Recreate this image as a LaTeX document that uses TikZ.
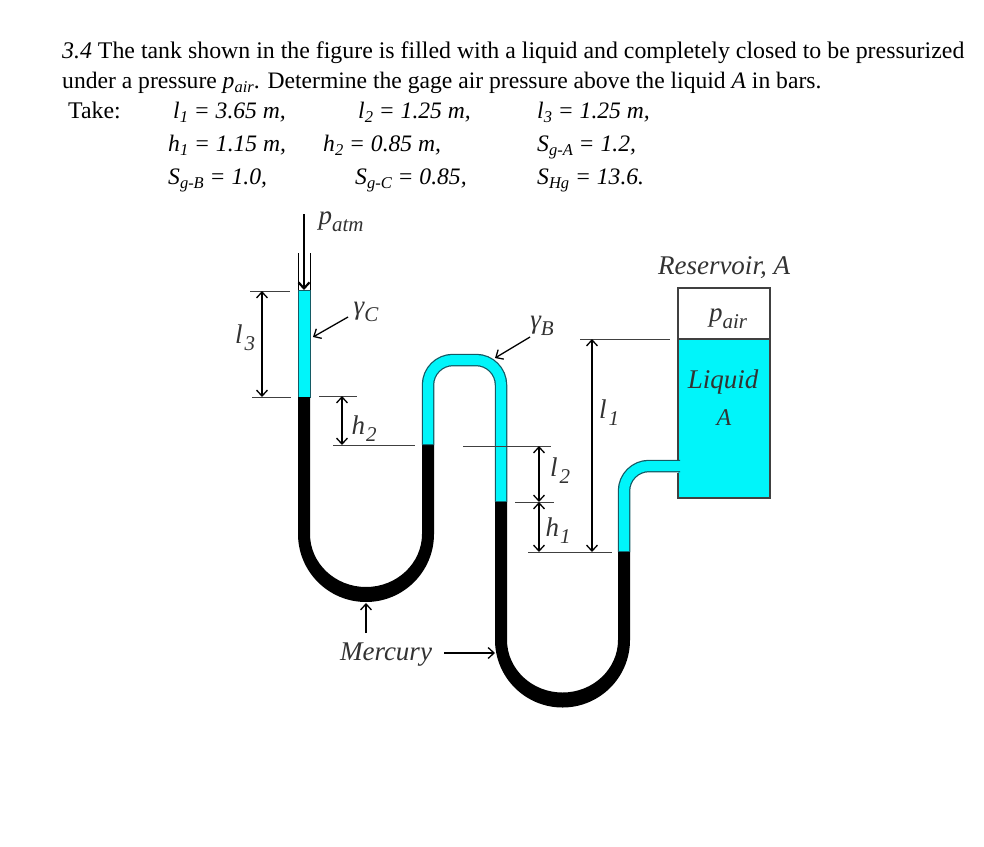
\documentclass[tikz,border=0pt]{standalone}
\usepackage{fontspec}
\setmainfont{Liberation Serif}
\usetikzlibrary{arrows.meta}
\definecolor{liquidcyan}{RGB}{0,245,250}
\definecolor{tubeedge}{RGB}{20,90,100}
\definecolor{labelgray}{RGB}{50,50,50}
\newcommand{\sbs}[1]{\raisebox{-4pt}{\fontsize{16.5}{16}\selectfont #1}}
\newcommand{\figsbs}[1]{\raisebox{-7pt}{\fontsize{21}{21}\selectfont #1}}
\tikzset{
  para/.style={anchor=base west,inner sep=0pt,font=\fontsize{23.85}{27}\selectfont},
  given/.style={para,font=\fontsize{23.6}{27}\selectfont\itshape},
  figlabel/.style={inner sep=0pt,text=labelgray,font=\fontsize{27}{30}\selectfont\itshape},
  extline/.style={draw=black!75,line width=1pt},
  dimline/.style={line width=1.3pt,{Straight Barb[length=6pt,width=11pt]}-{Straight Barb[length=6pt,width=11pt]}},
  leader/.style={line width=1.3pt,-{Straight Barb[length=6pt,width=11pt]}},
  tubeout/.style={draw=tubeedge,line width=12.5pt},
  tubein/.style={draw=liquidcyan,line width=10pt}
}
\begin{document}
\begin{tikzpicture}[x=1pt,y=-1pt]
\useasboundingbox (0,0) rectangle (984,846);

% problem statement
\node[para] (line1) at (62,58) {\textit{3.4} The tank shown in the figure is filled with a liquid and completely closed to be pressurized};
\node[para,font=\fontsize{23.6}{27}\selectfont] (line2) at (62,88) {under a pressure \textit{p}\sbs{\textit{air}}. Determine the gage air pressure above the liquid \textit{A} in bars.};
\node[para] (take) at (68,118) {Take:};
\node[given] (gl1) at (173,118) {l\sbs{1} = 3.65 m,};
\node[given] (gl2) at (358,118) {l\sbs{2} = 1.25 m,};
\node[given] (gl3) at (537,118) {l\sbs{3} = 1.25 m,};
\node[given] (gh1) at (168,151) {h\sbs{1} = 1.15 m,};
\node[given] (gh2) at (323,151) {h\sbs{2} = 0.85 m,};
\node[given] (gsa) at (537,151) {S\sbs{g-A} = 1.2,};
\node[given] (gsb) at (168,184) {S\sbs{g-B} = 1.0,};
\node[given] (gsc) at (355,184) {S\sbs{g-C} = 0.85,};
\node[given] (gshg) at (537,184) {S\sbs{Hg} = 13.6.};

% reservoir
\fill[liquidcyan] (678,339) rectangle (770,498);
\draw[tubeout,rounded corners=25pt] (624,552) -- (624,466) -- (680,466);
\draw[tubein,rounded corners=25pt] (624,551) -- (624,466) -- (682,466);
\draw[draw=black!75,line width=2.5pt] (678,460) -- (678,288) -- (770,288) -- (770,498) -- (678,498) -- (678,473);
\draw[draw=black!75,line width=1.5pt] (678,339) -- (770,339);

% open end and first u-tube
\draw[line width=1pt] (298,253) -- (298,290);
\draw[line width=1pt] (310,253) -- (310,290);
\fill[liquidcyan,draw=tubeedge,line width=1pt] (298,290) rectangle (310,397);
\fill[black] (298,397) -- (298,534) arc[start angle=180,end angle=360,radius=68pt] -- (434,445) -- (422,445) -- (422,534) arc[start angle=360,end angle=180,x radius=56pt,y radius=53pt] -- (310,397) -- cycle;

% arch
\draw[tubeout,rounded corners=25pt] (428,445) -- (428,360) -- (501,360) -- (501,502);
\draw[tubein,rounded corners=25pt] (428,444) -- (428,360) -- (501,360) -- (501,501);

% second u-tube
\fill[black] (495,502) -- (495,640) arc[start angle=180,end angle=360,radius=67.5pt] -- (630,552) -- (618,552) -- (618,640) arc[start angle=360,end angle=180,x radius=55.5pt,y radius=52.5pt] -- (507,502) -- cycle;

% extension lines
\draw[extline] (250,291) -- (290,291);
\draw[extline] (252,397) -- (291,397);
\draw[extline] (319,396) -- (357,396);
\draw[extline] (333,445) -- (415,445);
\draw[extline] (463,446) -- (551,446);
\draw[extline] (515,502) -- (554,502);
\draw[extline] (528,552) -- (612,552);
\draw[extline] (580,339) -- (670,339);

% dimension and leader ends
\coordinate (l3top) at (262,291);
\coordinate (l3bot) at (262,397);
\coordinate (h2top) at (342,396);
\coordinate (h2bot) at (342,445);
\coordinate (l2top) at (539,446);
\coordinate (l2bot) at (539,502);
\coordinate (h1bot) at (539,552);
\coordinate (l1top) at (592,339);
\coordinate (l1bot) at (592,552);
\coordinate (atmtop) at (304,214);
\coordinate (atmend) at (304,290);
\coordinate (gcfrom) at (348,317);
\coordinate (gcto) at (313,337);
\coordinate (gbfrom) at (530,337);
\coordinate (gbto) at (495,358);
\coordinate (hgup) at (366,633);
\coordinate (hgbot) at (366,603);
\coordinate (hgfrom) at (444,653);
\coordinate (hgto) at (495,653);

\draw[dimline] (l3top) -- (l3bot);
\draw[dimline] (h2top) -- (h2bot);
\draw[dimline] (l2top) -- (l2bot);
\draw[dimline] (l2bot) -- (h1bot);
\draw[dimline] (l1top) -- (l1bot);
\draw[leader,line width=2.2pt] (atmtop) -- (atmend);
\draw[leader] (gcfrom) -- (gcto);
\draw[leader] (gbfrom) -- (gbto);
\draw[leader] (hgup) -- (hgbot);
\draw[leader] (hgfrom) -- (hgto);

% labels
\node[figlabel] (patm) at (341,222) {p\figsbs{atm}};
\node[figlabel] (gammac) at (366,312) {γ\figsbs{C}};
\node[figlabel] (gammab) at (542,326) {γ\figsbs{B}};
\node[figlabel] (labl3) at (245,338) {l\kern2pt\figsbs{3}};
\node[figlabel] (labh2) at (364,429) {h\kern1pt\figsbs{2}};
\node[figlabel] (labl2) at (560,471) {l\kern2pt\figsbs{2}};
\node[figlabel] (labh1) at (558,531) {h\kern1pt\figsbs{1}};
\node[figlabel] (labl1) at (609,413) {l\kern2pt\figsbs{1}};
\node[figlabel] (reservoir) at (724,268) {Reservoir, A};
\node[figlabel] (pair) at (728,319) {p\figsbs{air}};
\node[figlabel] (liquid) at (723,382) {Liquid};
\node[figlabel,font=\fontsize{24}{26}\selectfont\itshape] (liquida) at (724,418) {A};
\node[figlabel] (mercury) at (386,655) {Mercury};
\end{tikzpicture}
\end{document}
